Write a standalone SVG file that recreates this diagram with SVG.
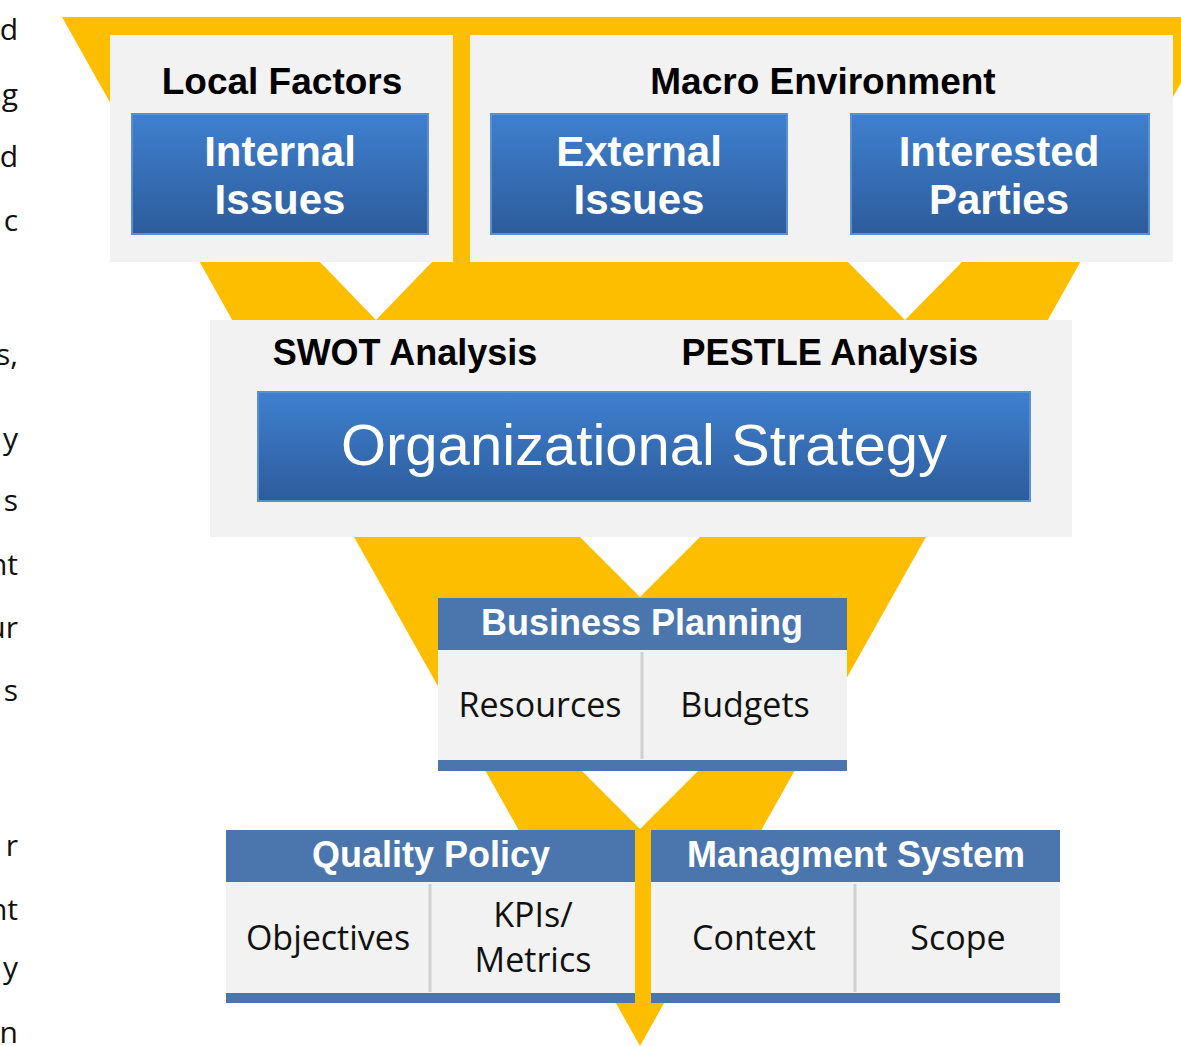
<svg xmlns="http://www.w3.org/2000/svg" width="1181" height="1046" viewBox="0 0 1181 1046">
<defs>
<linearGradient id="bg" x1="0" y1="0" x2="0" y2="1"><stop offset="0" stop-color="#3f80cf"/><stop offset="1" stop-color="#2d5c9c"/></linearGradient>
<style>
.gray{fill:#f2f2f2}
.blue{fill:url(#bg);stroke:#5a8fd0;stroke-width:2}
.hdr{fill:#4a76ad}
.div{stroke:#d0d0d0;stroke-width:3}
.b{font-family:"Liberation Sans",Arial,sans-serif;font-weight:bold;text-anchor:middle}
.w{fill:#fff}
.r{font-family:"Open Sans","Noto Sans",sans-serif;font-size:34px;fill:#111;text-anchor:middle}
.l{font-family:"Open Sans","Noto Sans",sans-serif;font-size:30px;fill:#111;text-anchor:end}
</style>
</defs>
<rect width="1181" height="1046" fill="#fff"/>
<g id="funnel">
<polygon points="62,17 1218,17 640,1046" fill="#fdbe00"/>
<polygon points="320,262 432,262 376,320" fill="#fff"/>
<polygon points="848,262 962,262 905,320" fill="#fff"/>
<polygon points="580,537 700,537 640,597" fill="#fff"/>
<polygon points="582,771 698,771 640,829" fill="#fff"/>
</g>
<g id="sidetext">
<text class="l" x="18" y="40">d</text>
<text class="l" x="18" y="105">g</text>
<text class="l" x="18" y="167">d</text>
<text class="l" x="18" y="231">c</text>
<text class="l" x="18" y="365">s,</text>
<text class="l" x="18" y="449">y</text>
<text class="l" x="18" y="511">s</text>
<text class="l" x="18" y="575">nt</text>
<text class="l" x="18" y="638">ur</text>
<text class="l" x="18" y="701">s</text>
<text class="l" x="18" y="856">r</text>
<text class="l" x="18" y="920">nt</text>
<text class="l" x="18" y="978">y</text>
<text class="l" x="18" y="1043">n</text>
</g>
<g id="local">
<rect class="gray" x="110" y="35" width="343" height="227"/>
<text class="b" x="282" y="94" font-size="37">Local Factors</text>
<rect class="blue" x="132" y="114" width="296" height="120"/>
<text class="b w" x="280" y="166" font-size="42">Internal</text>
<text class="b w" x="280" y="214" font-size="42">Issues</text>
</g>
<g id="macro">
<rect class="gray" x="470" y="35" width="703" height="227"/>
<text class="b" x="823" y="94" font-size="37">Macro Environment</text>
<rect class="blue" x="491" y="114" width="296" height="120"/>
<text class="b w" x="639" y="166" font-size="42">External</text>
<text class="b w" x="639" y="214" font-size="42">Issues</text>
<rect class="blue" x="851" y="114" width="298" height="120"/>
<text class="b w" x="999" y="166" font-size="42">Interested</text>
<text class="b w" x="999" y="214" font-size="42">Parties</text>
</g>
<g id="strategy">
<rect class="gray" x="210" y="320" width="862" height="217"/>
<text class="b" x="405" y="365" font-size="36">SWOT Analysis</text>
<text class="b" x="830" y="365" font-size="36">PESTLE Analysis</text>
<rect class="blue" x="258" y="392" width="772" height="109"/>
<text x="644" y="465" font-family="Liberation Sans,Arial,sans-serif" font-size="58" fill="#fff" text-anchor="middle">Organizational Strategy</text>
</g>
<g id="business">
<rect class="gray" x="438" y="650" width="409" height="110"/>
<rect class="hdr" x="438" y="598" width="409" height="52"/>
<rect class="hdr" x="438" y="760" width="409" height="11"/>
<line class="div" x1="642" y1="652" x2="642" y2="759"/>
<text class="b w" x="642" y="635" font-size="36">Business Planning</text>
<text class="r" x="540" y="717">Resources</text>
<text class="r" x="745" y="717">Budgets</text>
</g>
<g id="quality">
<rect class="gray" x="226" y="882" width="409" height="111"/>
<rect class="hdr" x="226" y="830" width="409" height="52"/>
<rect class="hdr" x="226" y="993" width="409" height="10"/>
<line class="div" x1="430" y1="884" x2="430" y2="992"/>
<text class="b w" x="431" y="867" font-size="36">Quality Policy</text>
<text class="r" x="328" y="950">Objectives</text>
<text class="r" x="533" y="927">KPIs/</text>
<text class="r" x="533" y="972">Metrics</text>
</g>
<g id="management">
<rect class="gray" x="651" y="882" width="409" height="111"/>
<rect class="hdr" x="651" y="830" width="409" height="52"/>
<rect class="hdr" x="651" y="993" width="409" height="10"/>
<line class="div" x1="855" y1="884" x2="855" y2="992"/>
<text class="b w" x="856" y="867" font-size="36">Managment System</text>
<text class="r" x="754" y="950">Context</text>
<text class="r" x="958" y="950">Scope</text>
</g>
<g id="connectors"/>
</svg>
